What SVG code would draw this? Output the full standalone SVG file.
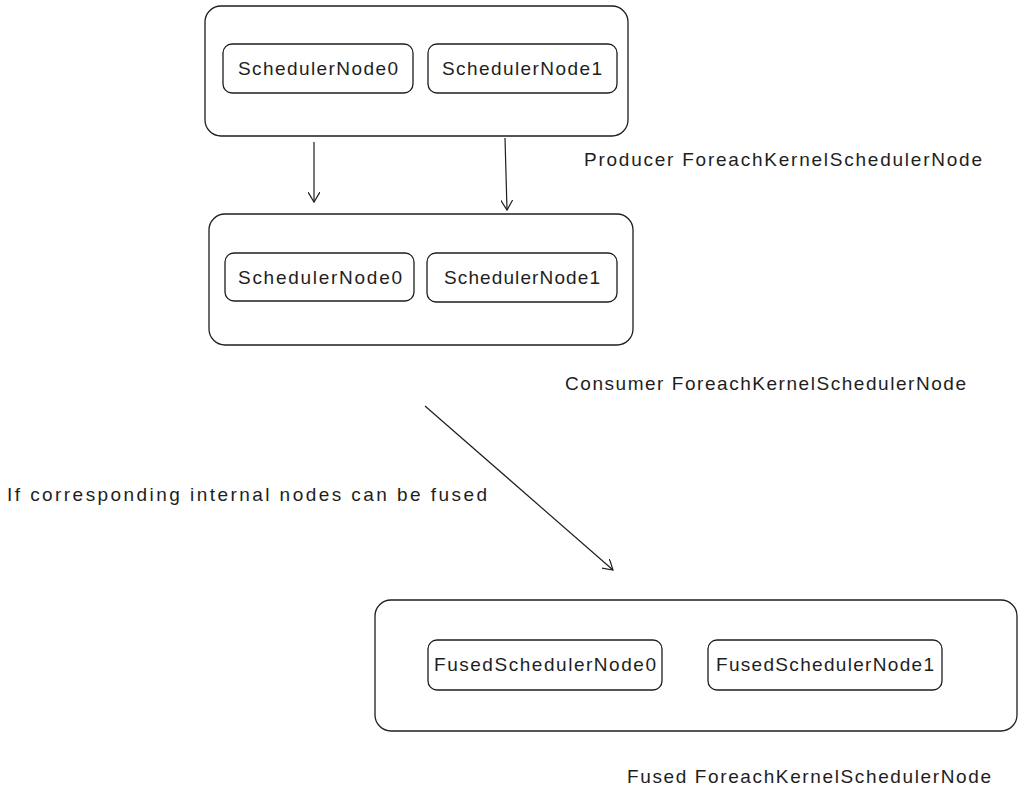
<svg xmlns="http://www.w3.org/2000/svg" width="1024" height="798" viewBox="0 0 1024 798">
<style>
.box{fill:none;stroke:#1e1e1e;stroke-width:1.3}
.t{font-family:"Liberation Sans",sans-serif;font-size:19px;fill:#1e1e1e}
.c{stroke:#1e1e1e;stroke-width:1.2;fill:none}
</style>
<defs><marker id="a" markerWidth="12" markerHeight="12" refX="10" refY="6" orient="auto" markerUnits="userSpaceOnUse"><path d="M0,0 L10,6 L0,12" class="c"/></marker></defs>
<rect width="1024" height="798" fill="#fff"/>
<g id="producer">
<rect class="box" x="205" y="6" width="423" height="130" rx="16"/>
<g id="p0"><rect class="box" x="223" y="44" width="190" height="49" rx="9"/><text class="t" x="318" y="75" text-anchor="middle" textLength="160">SchedulerNode0</text></g>
<g id="p1"><rect class="box" x="428" y="44" width="189" height="49" rx="9"/><text class="t" x="522" y="75" text-anchor="middle" textLength="160">SchedulerNode1</text></g>
</g>
<g id="consumer">
<rect class="box" x="209" y="214" width="424" height="131" rx="16"/>
<g id="c0"><rect class="box" x="225" y="253" width="189" height="48" rx="9"/><text class="t" x="320" y="284" text-anchor="middle" textLength="164">SchedulerNode0</text></g>
<g id="c1"><rect class="box" x="427" y="253" width="190" height="49" rx="9"/><text class="t" x="522" y="284" text-anchor="middle" textLength="156">SchedulerNode1</text></g>
</g>
<g id="fused">
<rect class="box" x="375" y="600" width="642" height="131" rx="16"/>
<g id="f0"><rect class="box" x="428" y="640" width="234" height="50" rx="9"/><text class="t" x="545" y="671" text-anchor="middle" textLength="222">FusedSchedulerNode0</text></g>
<g id="f1"><rect class="box" x="708" y="640" width="234" height="50" rx="9"/><text class="t" x="825" y="671" text-anchor="middle" textLength="218">FusedSchedulerNode1</text></g>
</g>
<g id="labels">
<text class="t" x="584" y="166" textLength="398">Producer ForeachKernelSchedulerNode</text>
<text class="t" x="565" y="390" textLength="401">Consumer ForeachKernelSchedulerNode</text>
<text class="t" x="7" y="501" textLength="480">If corresponding internal nodes can be fused</text>
<text class="t" x="627" y="783" textLength="364">Fused ForeachKernelSchedulerNode</text>
</g>
<g id="connectors">
<path class="c" d="M314,142 L314,202" marker-end="url(#a)"/>
<path class="c" d="M505,138 L507,210" marker-end="url(#a)"/>
<path class="c" d="M425,406 L613,570" marker-end="url(#a)"/>
</g>
</svg>
